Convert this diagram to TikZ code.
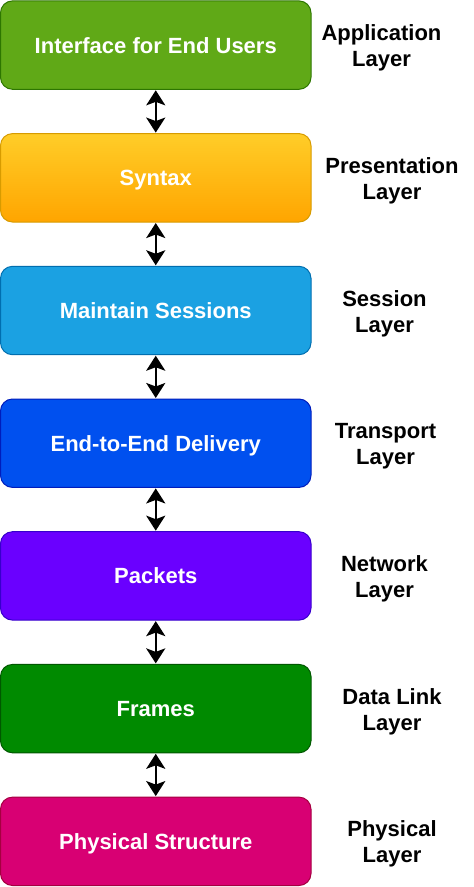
\documentclass[tikz,border=0pt]{standalone}
\usepackage{fontspec}
\setmainfont{Liberation Sans}
\usepackage{tikz}
\usetikzlibrary{positioning,arrows.meta}
\definecolor{appfill}{HTML}{60A917}
\definecolor{appline}{HTML}{2D7600}
\definecolor{prestop}{HTML}{FFCD28}
\definecolor{presbot}{HTML}{FFA500}
\definecolor{presline}{HTML}{D79B00}
\definecolor{sessfill}{HTML}{1BA1E2}
\definecolor{sessline}{HTML}{006EAF}
\definecolor{transfill}{HTML}{0050EF}
\definecolor{transline}{HTML}{001DBC}
\definecolor{netfill}{HTML}{6A00FF}
\definecolor{netline}{HTML}{3700CC}
\definecolor{linkfill}{HTML}{008A00}
\definecolor{linkline}{HTML}{005700}
\definecolor{physfill}{HTML}{D80073}
\definecolor{physline}{HTML}{A50040}
\tikzset{
  layerbox/.style={draw=#1, line width=1pt, rounded corners=12pt, minimum width=310.5pt, minimum height=88.4pt, text=white, font=\fontsize{22}{26}\selectfont\bfseries, inner sep=0pt, text height=15.8pt, text depth=0pt},
  layername/.style={align=center, text=black, font=\fontsize{22}{26}\selectfont\bfseries, inner sep=0pt},
  link/.style={{Stealth[length=15pt, width=19pt, inset=3.5pt]}-{Stealth[length=15pt, width=19pt, inset=3.5pt]}, line width=2.4pt, draw=black, shorten <=0.5pt, shorten >=0.5pt}
}
\begin{document}
\begin{tikzpicture}[x=1pt, y=-1pt]
  \useasboundingbox (0,0) rectangle (474,887);
  \node[layerbox=appline, fill=appfill] (app) at (155.75,45.1) {Interface for End Users};
  \node[layerbox=presline, top color=prestop, bottom color=presbot] (pres) at (155.75,177.8) {Syntax};
  \node[layerbox=sessline, fill=sessfill] (sess) at (155.75,310.5) {Maintain Sessions};
  \node[layerbox=transline, fill=transfill] (trans) at (155.75,443.2) {End-to-End Delivery};
  \node[layerbox=netline, fill=netfill] (net) at (155.75,575.9) {Packets};
  \node[layerbox=linkline, fill=linkfill] (dlink) at (155.75,708.6) {Frames};
  \node[layerbox=physline, fill=physfill] (phys) at (155.75,841.3) {Physical Structure};
  \node[layername] (appname) at (381.5,48) {Application\\Layer};
  \node[layername] (presname) at (392,180.7) {Presentation\\Layer};
  \node[layername] (sessname) at (384.5,313.4) {Session\\Layer};
  \node[layername] (transname) at (385.5,446.1) {Transport\\Layer};
  \node[layername] (netname) at (384.5,578.8) {Network\\Layer};
  \node[layername] (dlinkname) at (392,711.5) {Data Link\\Layer};
  \node[layername] (physname) at (392,844.2) {Physical\\Layer};
  \draw[link] (app.south) -- (pres.north);
  \draw[link] (pres.south) -- (sess.north);
  \draw[link] (sess.south) -- (trans.north);
  \draw[link] (trans.south) -- (net.north);
  \draw[link] (net.south) -- (dlink.north);
  \draw[link] (dlink.south) -- (phys.north);
\end{tikzpicture}
\end{document}
